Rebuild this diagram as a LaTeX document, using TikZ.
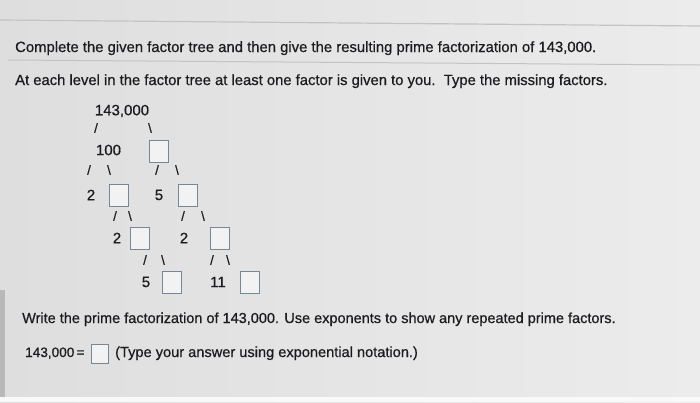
\documentclass[tikz,border=0pt]{standalone}
\usepackage{fontspec}
\setmainfont[FakeBold=0.6]{Liberation Sans}
\definecolor{ink}{RGB}{28,28,32}
\definecolor{boxc}{RGB}{120,135,150}
\definecolor{boxfill}{RGB}{242,242,242}
\definecolor{bgl}{RGB}{222,222,222}
\definecolor{bgr}{RGB}{236,236,236}
\definecolor{rule}{RGB}{195,195,195}
\begin{document}
\begin{tikzpicture}[x=1pt,y=-1pt,
  txt/.style={inner sep=0pt, text=ink, font=\fontsize{14.6}{16}\selectfont, anchor=base west},
  num/.style={inner sep=0pt, text=ink, font=\fontsize{15}{17}\selectfont},
  sl/.style={inner sep=0pt, text=ink, font=\fontsize{13}{15}\selectfont},
  ansbox/.style={draw=boxc, fill=boxfill, line width=1pt, minimum width=19pt, minimum height=22pt, inner sep=0pt},
]
\useasboundingbox (0,0) rectangle (700,402);
\shade[left color=bgl, right color=bgr] (0,0) rectangle (700,402);
\fill[white!95!gray] (0,397) rectangle (700,402);
\fill[gray!55] (0,290) rectangle (5,397);
\draw[rule, line width=1.2pt] (0,20) -- (700,26);
\draw[rule, line width=1pt] (8,60) -- (700,65);

\node[txt, font=\fontsize{14.85}{16}\selectfont] (t1) at (15,52) {Complete the given factor tree and then give the resulting prime factorization of 143,000.};
\node[txt, font=\fontsize{14.8}{16}\selectfont] (t2) at (15,85) {At each level in the factor tree at least one factor is given to you.\ \ Type the missing factors.};

% tree
\node[num] (n0) at (122,111) {143,000};
\node[sl] (s01) at (96,128) {/};
\node[sl] (s02) at (150,128) {\textbackslash};
\node[num] (n100) at (108.5,150) {100};
\node[ansbox] (b1) at (159,151) {};
\node[sl] (s11) at (89,170) {/};
\node[sl] (s12) at (109,170) {\textbackslash};
\node[sl] (s13) at (157,170) {/};
\node[sl] (s14) at (177,170) {\textbackslash};
\node[num] (n2a) at (91,195) {2};
\node[ansbox] (b2) at (118.5,195) {};
\node[num] (n5a) at (159,195) {5};
\node[ansbox] (b3) at (187.5,195) {};
\node[sl] (s21) at (115,216) {/};
\node[sl] (s22) at (130,216) {\textbackslash};
\node[sl] (s23) at (183,216) {/};
\node[sl] (s24) at (203,216) {\textbackslash};
\node[num] (n2b) at (117,238) {2};
\node[ansbox] (b4) at (139.5,238) {};
\node[num] (n2c) at (184,238) {2};
\node[ansbox] (b5) at (220,238) {};
\node[sl] (s31) at (145,260) {/};
\node[sl] (s32) at (163,260) {\textbackslash};
\node[sl] (s33) at (212,260) {/};
\node[sl] (s34) at (228,260) {\textbackslash};
\node[num] (n5b) at (146,282) {5};
\node[ansbox] (b6) at (172,282) {};
\node[num] (n11) at (218,282) {11};
\node[ansbox] (b7) at (250,282) {};

% answer
\node[txt, font=\fontsize{14.5}{16}\selectfont] (t3) at (22,323) {Write the prime factorization of 143,000. Use exponents to show any repeated prime factors.};
\node[txt, font=\fontsize{13.6}{15}\selectfont] (t4) at (25,357) {143,000\,=};
\node[ansbox, minimum width=17pt, minimum height=19pt] (ab) at (100,353.5) {};
\node[txt] (t5) at (115,357) {(Type your answer using exponential notation.)};
\end{tikzpicture}
\end{document}
